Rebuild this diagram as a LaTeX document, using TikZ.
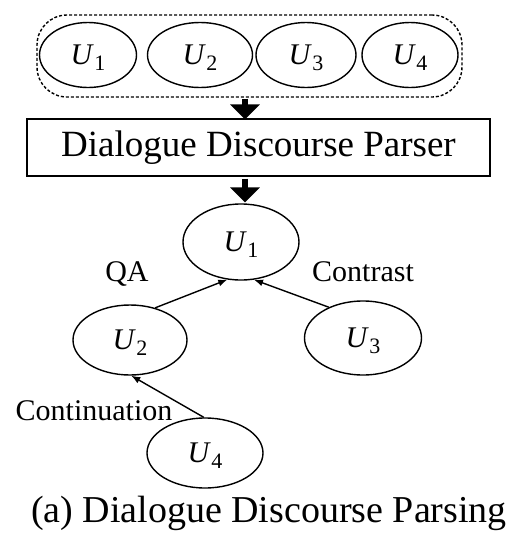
\documentclass[tikz,border=0pt]{standalone}
\usepackage{fontspec}
\setmainfont{Liberation Serif}
\usetikzlibrary{shapes.geometric,arrows.meta}
\newcommand\Ulab[1]{\textit{U}\kern0.5pt\smash{\raisebox{-6pt}{\fontsize{22}{22}\selectfont #1}}}
\tikzset{
  utt/.style={draw, ellipse, line width=1.4pt, inner sep=0pt, font=\fontsize{30}{30}\selectfont},
  rel/.style={line width=1.4pt, -{Latex[length=9pt,width=7pt]}},
  blockarrow/.style={line width=6.5pt, -{Triangle[length=15pt,width=29pt]}},
  lab/.style={font=\fontsize{30}{30}\selectfont, inner sep=0pt, anchor=base},
}
\begin{document}
\begin{tikzpicture}[x=1pt,y=1pt]
\useasboundingbox (0,0) rectangle (524,-536);
% top group
\node[draw, rounded corners=30pt, dash pattern=on 3pt off 2pt, line width=1.4pt,
      minimum width=425pt, minimum height=82pt, inner sep=0pt] (g) at (249.5,-56) {};
\node[utt, minimum width=97pt, minimum height=65pt] (t1) at (88,-55) {\Ulab{1}};
\node[utt, minimum width=105pt, minimum height=65pt] (t2) at (200,-55) {\Ulab{2}};
\node[utt, minimum width=100pt, minimum height=65pt] (t3) at (306,-55) {\Ulab{3}};
\node[utt, minimum width=96pt, minimum height=65pt] (t4) at (410,-55) {\Ulab{4}};
% parser
\node[draw, line width=1.4pt, minimum width=463pt, minimum height=57pt, inner sep=0pt,
      font=\fontsize{37}{37}\selectfont] (p) at (258.5,-147.5) {Dialogue Discourse Parser};
% bottom graph
\node[utt, minimum width=116pt, minimum height=76pt] (b1) at (241,-242) {\Ulab{1}};
\node[utt, minimum width=114pt, minimum height=70pt] (b2) at (130,-340) {\Ulab{2}};
\node[utt, minimum width=117pt, minimum height=74pt] (b3) at (363,-338) {\Ulab{3}};
\node[utt, minimum width=116pt, minimum height=70pt] (b4) at (205,-453) {\Ulab{4}};
% block arrows
\coordinate (ax) at (245,0);
\draw[blockarrow] ([yshift=-1pt]ax |- g.south) -- ([yshift=-1pt]ax |- p.north);
\draw[blockarrow] ([yshift=-2pt]ax |- p.south) -- ([yshift=1pt]ax |- b1.north);
% relations
\draw[rel] (b2.52) -- (b1.250);
\draw[rel] (b3.138) -- (b1.289);
\draw[rel] (b4.92) -- (b2.272);
% labels
\node[lab] (qa) at (127,-281) {QA};
\node[lab] (contrast) at (363,-281) {Contrast};
\node[lab] (cont) at (94,-420) {Continuation};
\node[font=\fontsize{38}{38}\selectfont, inner sep=0pt, anchor=base] (cap) at (269,-522) {(a) Dialogue Discourse Parsing};
\end{tikzpicture}
\end{document}
